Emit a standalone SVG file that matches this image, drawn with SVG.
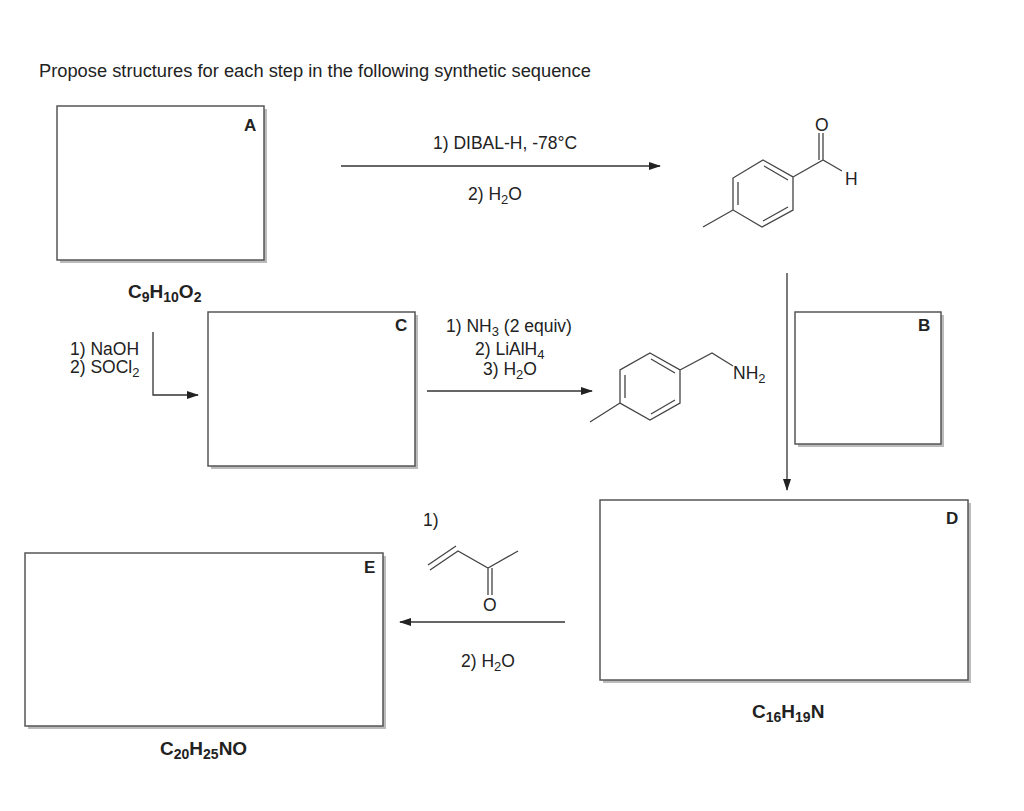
<svg xmlns="http://www.w3.org/2000/svg" width="1024" height="811" viewBox="0 0 1024 811">
<style>
text{font-family:"Liberation Sans",Arial,sans-serif;fill:#222}
.t{font-size:17.5px}
.b{font-size:17px;font-weight:bold}
.box{fill:#fff;stroke:#555;stroke-width:1.5}
.sh{fill:#bbb}
.bd{stroke:#444;stroke-width:1.3;fill:none}
.ar{stroke:#333;stroke-width:1.3;fill:none}
</style>
<defs><marker id="ah" markerWidth="12" markerHeight="8" refX="11" refY="4" orient="auto" markerUnits="userSpaceOnUse"><path d="M0,0 L12,4 L0,8 Z" fill="#222"/></marker></defs>
<rect width="1024" height="811" fill="#fff"/>
<text x="39" y="77" style="font-size:18.3px">Propose structures for each step in the following synthetic sequence</text>
<g id="A"><rect class="sh" x="60" y="109" width="207" height="154"/><rect class="box" x="57" y="106" width="207" height="154"/><text x="244" y="131" class="b">A</text><text x="128" y="298" class="b" style="font-size:19px">C<tspan font-size="14" dy="4">9</tspan><tspan dy="-4">H</tspan><tspan font-size="14" dy="4">10</tspan><tspan dy="-4">O</tspan><tspan font-size="14" dy="4">2</tspan></text></g>
<g id="C"><rect class="sh" x="211" y="315" width="207" height="154"/><rect class="box" x="208" y="312" width="207" height="154"/><text x="395" y="331" class="b">C</text></g>
<g id="B"><rect class="sh" x="798" y="315" width="146" height="132"/><rect class="box" x="795" y="312" width="146" height="132"/><text x="918" y="331" class="b">B</text></g>
<g id="D"><rect class="sh" x="603" y="503" width="368" height="180"/><rect class="box" x="600" y="500" width="368" height="180"/><text x="946" y="524" class="b">D</text><text x="752" y="718" class="b" style="font-size:19px">C<tspan font-size="14" dy="4">16</tspan><tspan dy="-4">H</tspan><tspan font-size="14" dy="4">19</tspan><tspan dy="-4">N</tspan></text></g>
<g id="E"><rect class="sh" x="28" y="556" width="358" height="173"/><rect class="box" x="25" y="553" width="358" height="173"/><text x="364" y="573" class="b">E</text><text x="160" y="755" class="b" style="font-size:19px">C<tspan font-size="14" dy="4">20</tspan><tspan dy="-4">H</tspan><tspan font-size="14" dy="4">25</tspan><tspan dy="-4">NO</tspan></text></g>
<g id="aldehyde">
<path class="bd" d="M763,160 L793,177 L793,210 L762,227 L733,210 L733,178 Z M703,227 L733,210 M793,177 L823,160 L842,171 M823,160 L823,133 M819,160 L819,133"/>
<path class="bd" d="M764,166 L788,180 M788,207 L763,221 M738,205 L738,182"/>
<text x="815" y="131" class="t">O</text><text x="845" y="185" class="t">H</text></g>
<g id="amine">
<path class="bd" d="M650,353 L680,370 L680,403 L650,420 L620,403 L620,370 Z M590,422 L620,403 M680,370 L712,353 L733,366"/>
<path class="bd" d="M651,359 L675,373 M675,400 L651,414 M625,398 L625,375"/>
<text x="733" y="379" class="t">NH<tspan font-size="13" dy="4">2</tspan></text></g>
<g id="enone">
<path class="bd" d="M430,570 L458,551 L488,568 L518,551 M428,565 L456,546 M488,568 L488,595 M492,568 L492,595"/>
<text x="483" y="611" class="t">O</text></g>
<g id="connectors">
<line class="ar" x1="341" y1="166" x2="660" y2="166" marker-end="url(#ah)"/>
<polyline class="ar" points="153,332 153,395 198,395" marker-end="url(#ah)"/>
<line class="ar" x1="427" y1="391" x2="592" y2="391" marker-end="url(#ah)"/>
<line class="ar" x1="787" y1="273" x2="787" y2="490" marker-end="url(#ah)"/>
<line class="ar" x1="565" y1="622" x2="400" y2="622" marker-end="url(#ah)"/>
</g>
<text x="433" y="149" class="t">1) DIBAL-H, -78°C</text>
<text x="468" y="200" class="t">2) H<tspan font-size="13" dy="4">2</tspan><tspan dy="-4">O</tspan></text>
<text x="70" y="355" class="t">1) NaOH</text>
<text x="70" y="373" class="t">2) SOCl<tspan font-size="13" dy="4">2</tspan></text>
<text x="446" y="332" class="t">1) NH<tspan font-size="13" dy="4">3</tspan><tspan dy="-4"> (2 equiv)</tspan></text>
<text x="475" y="355" class="t">2) LiAlH<tspan font-size="13" dy="4">4</tspan></text>
<text x="483" y="375" class="t">3) H<tspan font-size="13" dy="4">2</tspan><tspan dy="-4">O</tspan></text>
<text x="423" y="526" class="t">1)</text>
<text x="461" y="667" class="t">2) H<tspan font-size="13" dy="4">2</tspan><tspan dy="-4">O</tspan></text>
</svg>
